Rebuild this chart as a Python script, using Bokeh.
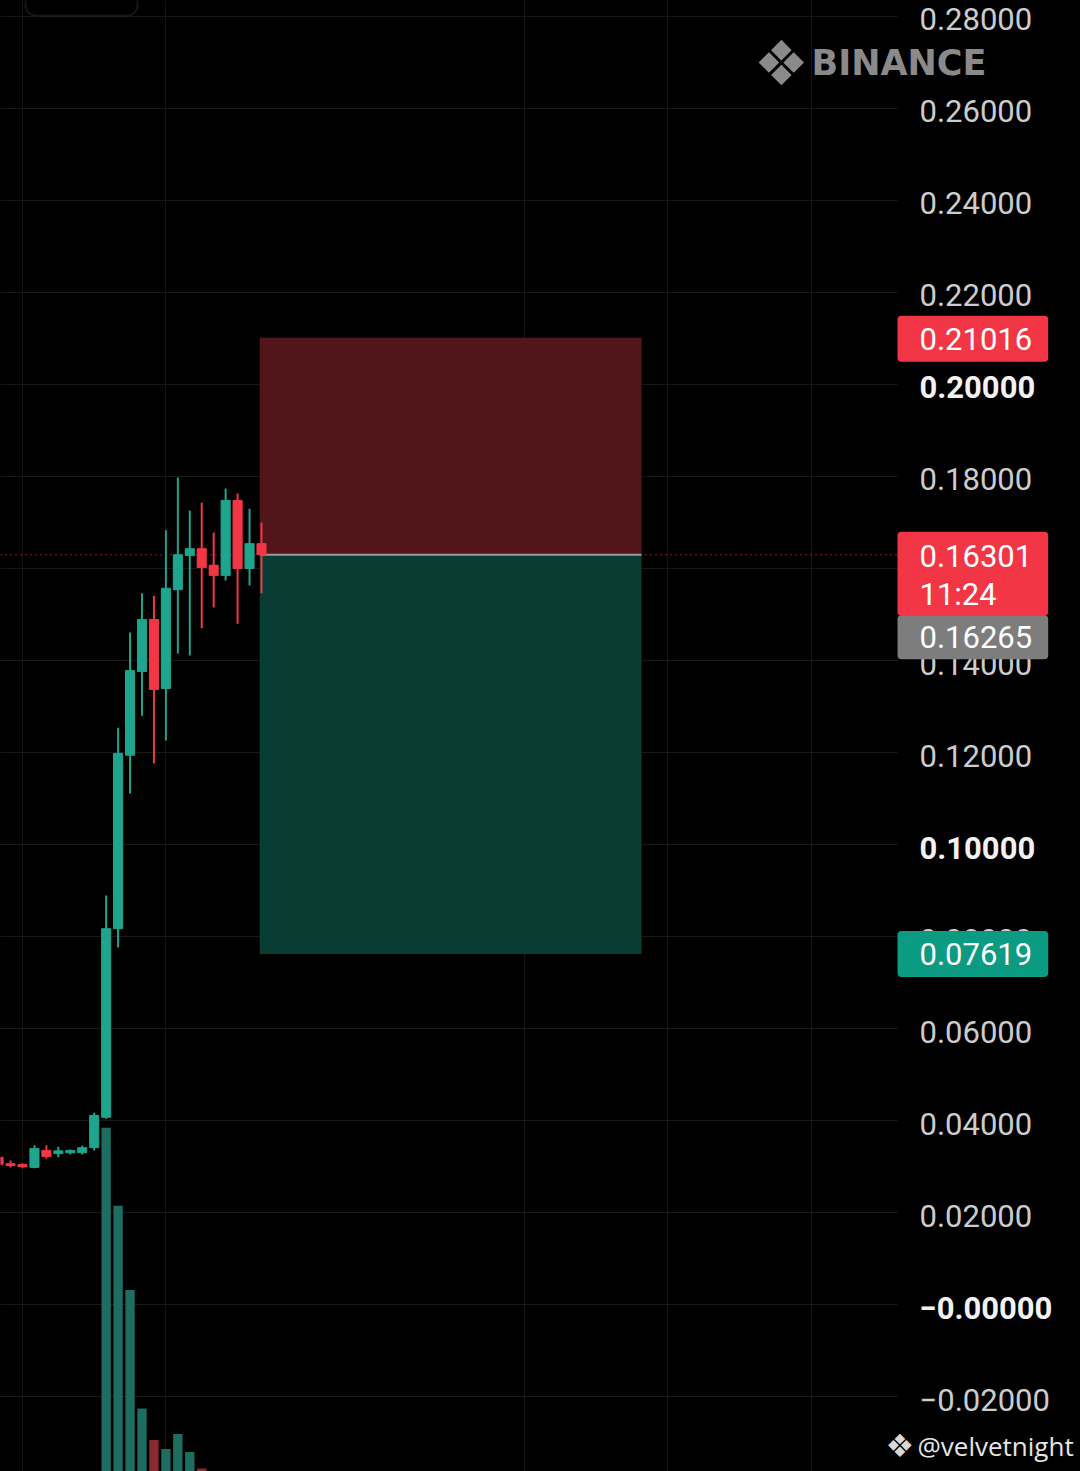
from bokeh.plotting import figure
from bokeh.models import (Range1d, FixedTicker, Grid, Label, BoxAnnotation,
                          ColumnDataSource, GlobalInlineStyleSheet)
from bokeh.core.properties import value
from bokeh.embed import file_html
from bokeh.resources import INLINE

# ---------------- data ----------------
bar_index = list(range(23))
opens  = [0.0320, 0.0306, 0.0304, 0.0298, 0.0335, 0.0328, 0.0330, 0.0330, 0.0341,
          0.0407, 0.0817, 0.1194, 0.1376, 0.1489, 0.1339, 0.1554, 0.1628, 0.1643,
          0.1607, 0.1585, 0.1748, 0.1600, 0.1654]
highs  = [0.0325, 0.0313, 0.0307, 0.0346, 0.0346, 0.0343, 0.0337, 0.0345, 0.0417,
          0.0889, 0.1254, 0.1461, 0.1546, 0.1541, 0.1683, 0.1798, 0.1726, 0.1743,
          0.1678, 0.1774, 0.1763, 0.1730, 0.1700]
lows   = [0.0296, 0.0298, 0.0296, 0.0296, 0.0317, 0.0320, 0.0326, 0.0326, 0.0335,
          0.0404, 0.0776, 0.1111, 0.1280, 0.1176, 0.1226, 0.1415, 0.1411, 0.1470,
          0.1515, 0.1574, 0.1480, 0.1563, 0.1546]
closes = [0.0305, 0.0302, 0.0300, 0.0339, 0.0322, 0.0334, 0.0335, 0.0341, 0.0411,
          0.0817, 0.1198, 0.1378, 0.1489, 0.1337, 0.1557, 0.1630, 0.1643, 0.1602,
          0.1585, 0.1748, 0.1600, 0.1654, 0.16301]
volumes = [4, 3, 3, 6, 4, 3, 2, 3, 9,
           239, 187, 131, 52, 31, 25, 35, 23, 12, 8, 9, 7, 6, 5]

price_ticks = [-0.02, 0.0, 0.02, 0.04, 0.06, 0.08, 0.10, 0.12, 0.14, 0.16,
               0.18, 0.20, 0.22, 0.24, 0.26, 0.28]
price_tick_labels = ["\u22120.02000", "\u22120.00000", "0.02000", "0.04000", "0.06000",
                     "0.08000", "0.10000", "0.12000", "0.14000", "0.16000", "0.18000",
                     "0.20000", "0.22000", "0.24000", "0.26000", "0.28000"]
bold_ticks = [0.0, 0.10, 0.20]
time_grid = [2, 14, 44, 56, 68]

entry_price = 0.16301
stop_price = 0.21016
target_price = 0.07619
bid_price = 0.16265
countdown = "11:24"
position_start = 21.85
position_end = 53.8

# ---------------- styles ----------------
UP, DOWN = "#1fa48d", "#f23645"
VOL_UP, VOL_DOWN = "#1d6d60", "#8a2a31"
FIG_W, FIG_H = 1080, 1471
X0, X1 = 0.159, 90.54
Y0, Y1 = -0.036304, 0.283478
PPX = FIG_W / (X1 - X0)
PPY = FIG_H / (Y1 - Y0)


def xd(px):  # canvas pixel -> data x
    return X0 + px / PPX


def yd(py):  # canvas pixel -> data y
    return Y1 - py / PPY


SCALE_EDGE = xd(897)   # where the price scale begins
LABEL_X = xd(919)

p = figure(width=FIG_W, height=FIG_H, x_range=Range1d(X0, X1), y_range=Range1d(Y0, Y1),
           output_backend="svg", toolbar_location=None, x_axis_location=None,
           y_axis_location=None, min_border=0,
           background_fill_color="#000000", border_fill_color="#000000",
           outline_line_color=None)
p.stylesheets = [GlobalInlineStyleSheet(css="html, body { background: #000000; }")]
p.extra_y_ranges = {"vol": Range1d(10, 990)}

# grids
p.center = [r for r in p.center if not isinstance(r, Grid)]
p.add_layout(Grid(dimension=0, ticker=FixedTicker(ticks=time_grid),
                  grid_line_color="#151515", grid_line_width=1))
p.segment(x0=X0, x1=SCALE_EDGE, y0=price_ticks, y1=price_ticks,
          line_color="#181818", line_width=1)

# price scale labels
norm = [(t, l) for t, l in zip(price_ticks, price_tick_labels) if t not in bold_ticks]
bold = [(t, l) for t, l in zip(price_ticks, price_tick_labels) if t in bold_ticks]
p.text(x=LABEL_X, y=[t for t, _ in norm], text=[l for _, l in norm], y_offset=3,
       text_font=value("Roboto"), text_font_size="31px", text_color="#cccccc",
       text_baseline="middle", text_align="left")
p.text(x=LABEL_X, y=[t for t, _ in bold], text=[l for _, l in bold], y_offset=3,
       text_font=value("Roboto"), text_font_size="31px", text_color="#f2f2f2",
       text_font_style="bold", text_baseline="middle", text_align="left")

# last price dotted line
p.segment(x0=[X0], x1=[SCALE_EDGE], y0=[entry_price], y1=[entry_price],
          line_color=DOWN, line_alpha=0.75, line_width=1.5, line_dash="1 4")

src = ColumnDataSource(dict(
    x=bar_index, open=opens, high=highs, low=lows, close=closes,
    top=[max(o, c) for o, c in zip(opens, closes)],
    bottom=[min(o, c) for o, c in zip(opens, closes)],
    color=[UP if c >= o else DOWN for o, c in zip(opens, closes)],
    vcolor=[VOL_UP if c >= o else VOL_DOWN for o, c in zip(opens, closes)],
    vol=volumes,
))

# volume
p.vbar(x="x", top="vol", bottom=0, width=0.78, y_range_name="vol",
       fill_color="vcolor", line_color=None, source=src)

# position tool boxes
p.quad(left=[position_start], right=[position_end], top=[stop_price], bottom=[entry_price],
       fill_color="#521519", line_color=None)
p.quad(left=[position_start], right=[position_end], top=[entry_price], bottom=[target_price],
       fill_color="#093d33", line_color=None)
p.segment(x0=[position_start], x1=[position_end], y0=[entry_price], y1=[entry_price],
          line_color="#9a9a9a", line_width=2)

# candles
p.segment(x0="x", x1="x", y0="high", y1="low", line_color="color", line_width=2, source=src)
p.vbar(x="x", width=0.76, top="top", bottom="bottom", fill_color="color",
       line_color="color", line_width=1, source=src)

# top-left UI button remnant
p.add_layout(BoxAnnotation(left=xd(25), right=xd(137), top=yd(-30), bottom=yd(15),
                           fill_alpha=0, line_color="#4a4a4a", line_width=2,
                           border_radius=10))


# price tags  (padding order: left, right, top, bottom)
def tag(price, text, color, y_off=0, pad=(22, 16, 12, 12), bg=True):
    lab = Label(x=xd(897) if bg else LABEL_X, y=price, text=text, y_offset=y_off,
                text_baseline="middle", text_align="left", text_font="Roboto",
                text_font_size="31px", text_color="#ffffff")
    if bg:
        lab.background_fill_color = color
        lab.border_radius = 4
        lab.padding = pad
    p.add_layout(lab)


tag(stop_price, f"{stop_price:.5f}", DOWN, y_off=-1)
tag(entry_price, f"{entry_price:.5f}", DOWN, y_off=-19, pad=(22, 16, 13, 49))
tag(entry_price, countdown, DOWN, y_off=-40, bg=False)
tag(bid_price, f"{bid_price:.5f}", "#7d7d7d", y_off=-81, pad=(22, 16, 11, 11))
tag(target_price, f"{target_price:.5f}", "#0b9a82")

# watermarks
p.add_layout(Label(x=xd(753), y=yd(63), text="\u2756", text_font="DejaVu Sans",
                   text_font_size="62px", text_color="#8a8a8a", text_baseline="middle"))
p.add_layout(Label(x=xd(811), y=yd(62), text="BINANCE", text_font="DejaVu Sans",
                   text_font_style="bold", text_font_size="35px", text_color="#8a8a8a",
                   text_baseline="middle"))
p.add_layout(Label(x=xd(885), y=yd(1445), text="\u2756", text_font="DejaVu Sans",
                   text_font_size="32px", text_color="#d8d8d8", text_baseline="middle"))
p.add_layout(Label(x=xd(917), y=yd(1445), text="@velvetnight", text_font="Open Sans",
                   text_font_size="26px", text_color="#e6e6e6", text_baseline="middle"))

open("out.html", "w").write(file_html(p, INLINE))
